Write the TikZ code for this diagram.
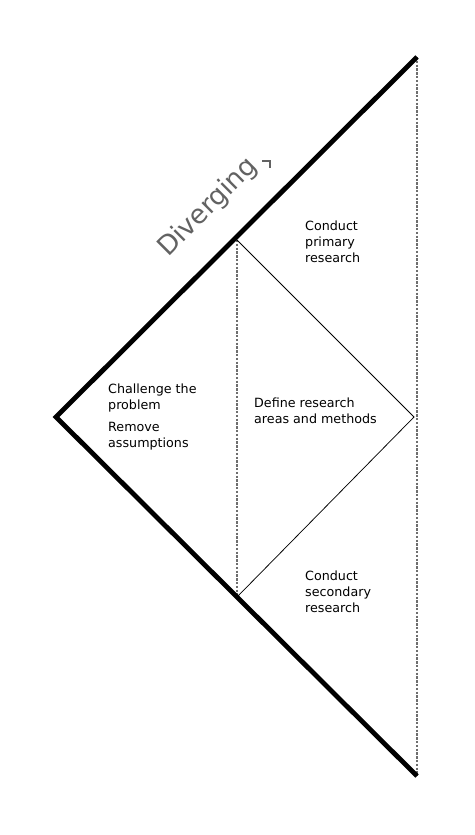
\documentclass[tikz,border=0pt]{standalone}
\usepackage{fontspec}
\setmainfont{DejaVu Sans}
\definecolor{divgray}{HTML}{626262}
\definecolor{dashgray}{HTML}{6E6E6E}
\begin{document}
\begin{tikzpicture}[x=1pt,y=-1pt,
  thickline/.style={line width=4.8pt,line join=miter,line cap=butt},
  thinline/.style={line width=0.75pt,black},
  dashline/.style={line width=1.2pt,dashgray,dash pattern=on 2.4pt off 1.4pt},
  label/.style={font=\fontsize{12.7}{15.8}\selectfont,align=left,anchor=north west,inner sep=0pt,text=black}]
\fill[white] (0,0) rectangle (474,835);
\useasboundingbox (0,0) rectangle (474,835);
\coordinate (top) at (417,57);
\coordinate (apex) at (56,417);
\coordinate (bot) at (417,776);
\coordinate (dtop) at (237,240);
\coordinate (dright) at (414,417);
\coordinate (dbot) at (237,597);
% dashed verticals
\draw[dashline] (dtop) -- (dbot);
\draw[dashline] (top) -- (bot);
% thin diamond half
\draw[thinline] (dtop) -- (dright) -- (dbot);
% thick chevron
\draw[thickline] (top) -- (apex) -- (bot);
% labels
\node[label] (chal) at (108,384) {Challenge the\\problem};
\node[label] (remv) at (108,422) {Remove\\assumptions};
\node[label] (defn) at (254,398) {Define research\\areas and methods};
\node[label] (prim) at (305,221) {Conduct\\primary\\research};
\node[label] (secd) at (305,571) {Conduct\\secondary\\research};
\node[font=\fontsize{26.5}{30}\selectfont,text=divgray,rotate=45,anchor=base west,inner sep=0pt] (div) at (168,258) {Diverging};
\coordinate (s1) at (262,161);
\coordinate (s2) at (270,161);
\coordinate (s3) at (270,168);
\draw[divgray,line width=1.3pt] (s1) -- (s2) -- (s3);
\end{tikzpicture}
\end{document}
